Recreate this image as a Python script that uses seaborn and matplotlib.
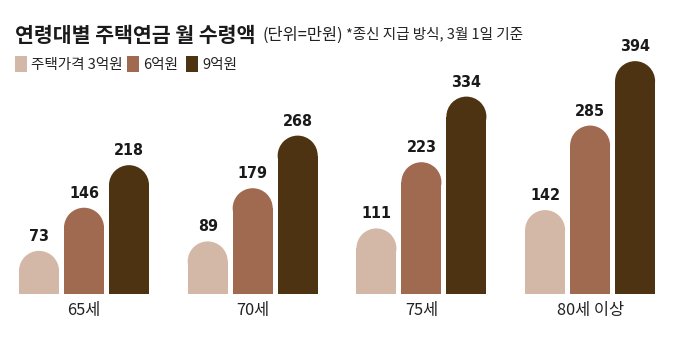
import matplotlib
matplotlib.use("Agg")
import matplotlib.pyplot as plt
from matplotlib.patches import Ellipse, Rectangle
import seaborn as sns
import pandas as pd

categories = ["65세", "70세", "75세", "80세 이상"]
series_names = ["주택가격 3억원", "6억원", "9억원"]
v3 = [73, 89, 111, 142]
v6 = [146, 179, 223, 285]
v9 = [218, 268, 334, 394]
colors = ["#D3B8A7", "#A06A51", "#4D3311"]

rows = []
for name, vals in zip(series_names, [v3, v6, v9]):
    for c, v in zip(categories, vals):
        rows.append({"cat": c, "series": name, "value": v})
df = pd.DataFrame(rows)

sns.set_theme(style="white")
plt.rcParams["font.family"] = ["Noto Sans CJK KR", "DejaVu Sans"]

W, H = 676, 361
fig = plt.figure(figsize=(W / 100, H / 100), dpi=100)
base_px = 294          # baseline, px from top
top_px = 40
ppu = 0.591            # px per value unit
grp_px = 168.7
ax = fig.add_axes([0, (H - base_px) / H, 1, (base_px - top_px) / H])
sns.barplot(data=df, x="cat", y="value", hue="series", order=categories,
            hue_order=series_names, palette=colors, width=0.8, gap=0.11,
            legend=False, ax=ax, saturation=1)
ax.set_xlim(-84 / grp_px, (W - 84) / grp_px)
ax.set_ylim(0, (base_px - top_px) / ppu)
for s in ax.spines.values():
    s.set_visible(False)
ax.set_yticks([])
ax.set_xlabel("")
ax.set_ylabel("")
ax.tick_params(axis="x", length=0, pad=6, labelsize=11.8, colors="#222222")

# rounded tops
for p in list(ax.patches):
    if not isinstance(p, Rectangle):
        continue
    x, w, h = p.get_x(), p.get_width(), p.get_height()
    if h <= 0:
        continue
    r_px = w * grp_px / 2
    ry = r_px / ppu
    p.set_height(h - ry)
    p.set_linewidth(0)
    e = Ellipse((x + w / 2, h - ry), w, 2 * ry, facecolor=p.get_facecolor(),
                edgecolor="none", linewidth=0)
    ax.add_patch(e)
    ax.text(x + w / 2, h + 7 / ppu, f"{int(round(h))}", ha="center", va="bottom",
            fontsize=11.5, fontweight="bold", fontstretch="condensed",
            color="#1a1a1a", family=["DejaVu Sans"])

# title
fig.text(15 / W, 1 - 35 / H, "연령대별 주택연금 월 수령액", ha="left", va="center",
         fontsize=14.8, fontweight="bold", color="#1a1a1a")
fig.text(262 / W, 1 - 35 / H, "(단위=만원)", ha="left", va="center",
         fontsize=11.8, color="#222222")
fig.text(346 / W, 1 - 34 / H, "*종신 지급 방식, 3월 1일 기준", ha="left", va="center",
         fontsize=10.5, color="#222222")

# legend
leg_x = [15, 127, 186]
for lx, name, col in zip(leg_x, series_names, colors):
    fig.patches.append(Rectangle((lx / W, 1 - 72 / H), 12 / W, 16 / H,
                                 transform=fig.transFigure, facecolor=col,
                                 edgecolor="none"))
    fig.text((lx + 16) / W, 1 - 64.5 / H, name, ha="left", va="center",
             fontsize=10.5, color="#222222")

fig.savefig("out.png", dpi=100, facecolor="white")
